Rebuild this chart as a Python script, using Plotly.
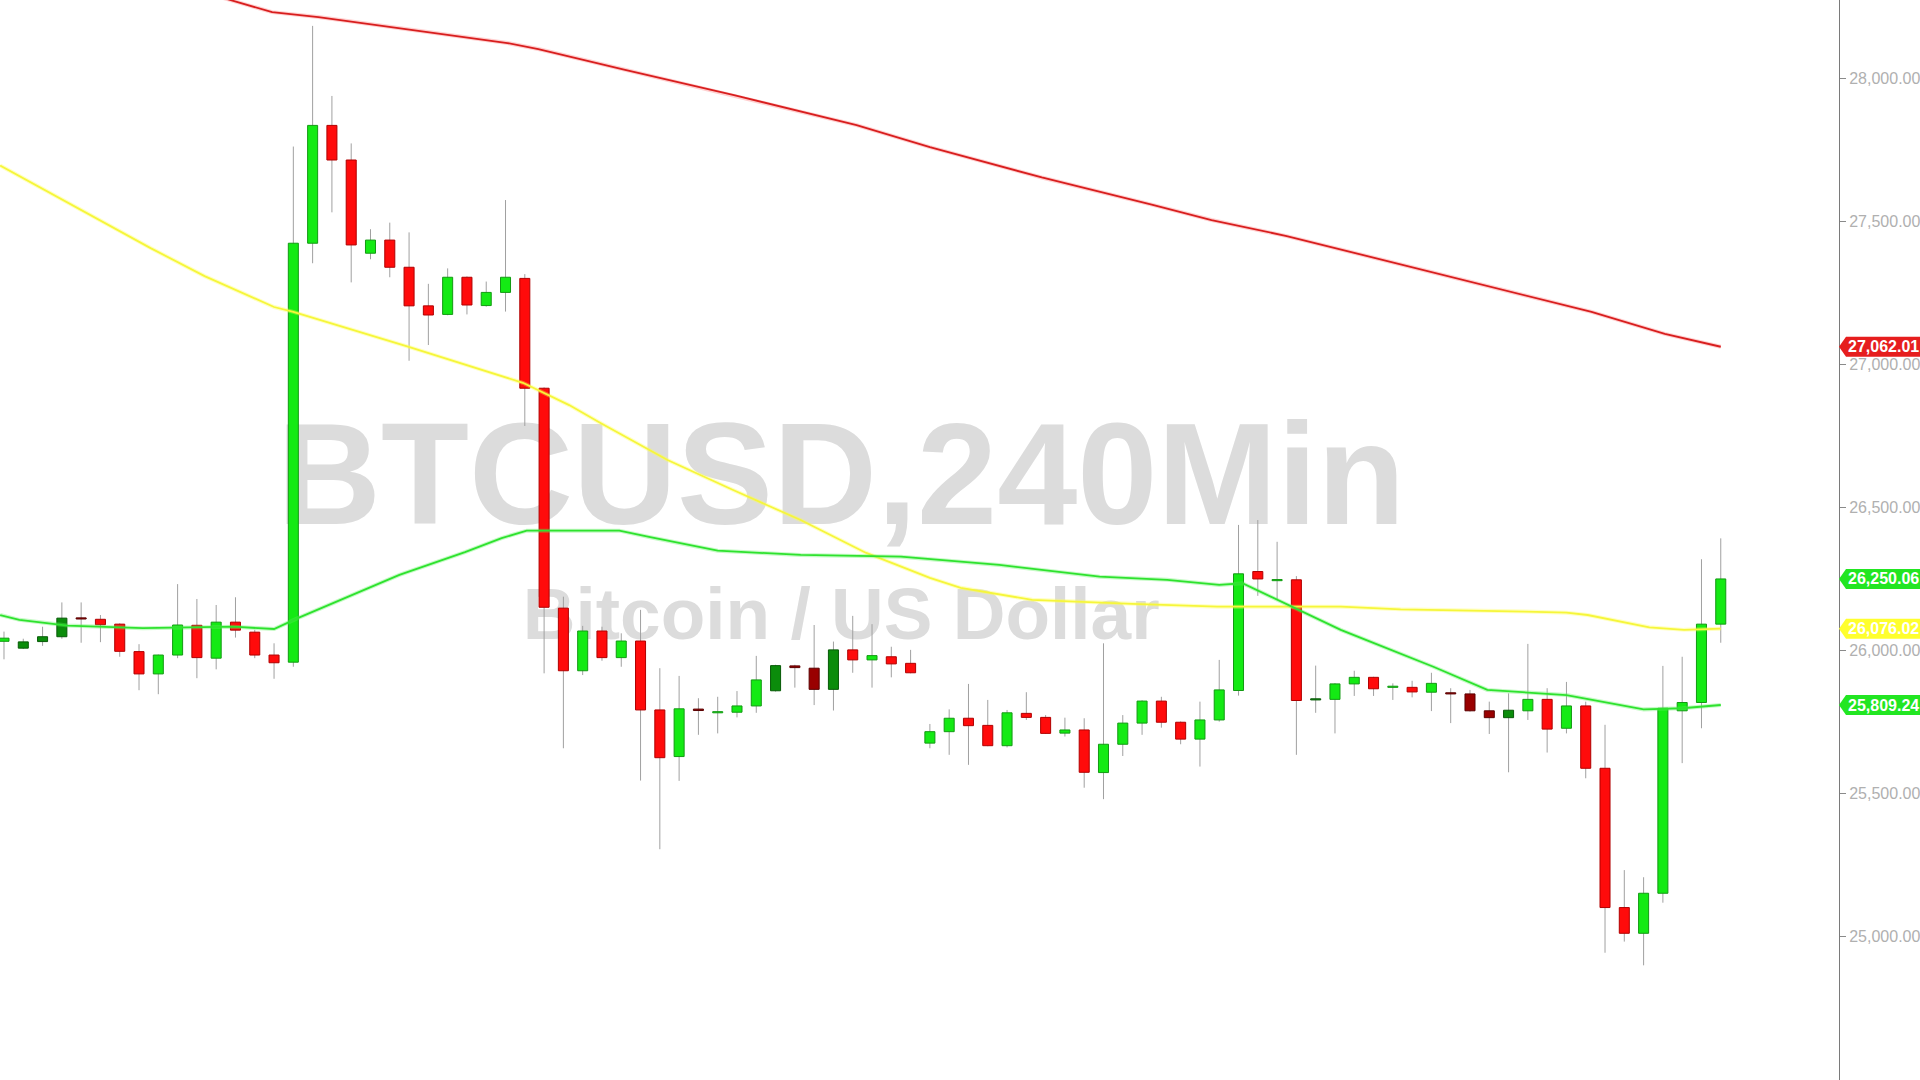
import plotly.graph_objects as go

# ---------------- data ----------------
opens = [26032, 26008, 26031, 26048, 26114, 26109, 26092, 25996, 25918, 25984,
         26088, 25973, 26099, 26064, 25984, 25959, 27424, 27836, 27715, 27389,
         27435, 27340, 27205, 27175, 27305, 27206, 27252, 27301, 26917, 26148,
         25929, 26068, 25975, 26033, 25792, 25629, 25795, 25782, 25784, 25806,
         25859, 25946, 25938, 25864, 26002, 25967, 25978, 25955, 25676, 25716,
         25763, 25738, 25667, 25780, 25766, 25711, 25722, 25573, 25672, 25746,
         25823, 25749, 25690, 25757, 25860, 26276, 26244, 26247, 25827, 25829,
         25883, 25906, 25871, 25871, 25854, 25852, 25848, 25789, 25765, 25789,
         25829, 25728, 25806, 25588, 25101, 25011, 25151, 25789, 25818, 26092]
highs = [26066, 26041, 26083, 26168, 26168, 26124, 26095, 26022, 25986, 26232,
         26180, 26159, 26186, 26072, 26025, 27762, 28184, 27939, 27773, 27473,
         27496, 27462, 27282, 27336, 27308, 27290, 27575, 27316, 26920, 26188,
         26086, 26083, 26060, 26142, 25938, 25911, 25833, 25838, 25858, 25981,
         25950, 25950, 26089, 26031, 26121, 26092, 26013, 26002, 25743, 25794,
         25883, 25827, 25792, 25854, 25774, 25765, 25763, 26025, 25774, 25826,
         25838, 25752, 25821, 25967, 26439, 26456, 26380, 26260, 25947, 25886,
         25929, 25908, 25885, 25894, 25922, 25868, 25862, 25821, 25850, 26023,
         25868, 25890, 25821, 25740, 25232, 25207, 25946, 25978, 26319, 26392]
lows = [25969, 26005, 26016, 26041, 26027, 26029, 25978, 25861, 25847, 25973,
        25903, 25934, 26045, 25973, 25901, 25943, 27354, 27532, 27287, 27368,
        27305, 27013, 27068, 27172, 27175, 27202, 27185, 26785, 25920, 25658,
        25914, 25964, 25943, 25545, 25305, 25544, 25705, 25710, 25766, 25782,
        25856, 25870, 25809, 25790, 25922, 25870, 25906, 25920, 25658, 25635,
        25600, 25665, 25661, 25757, 25708, 25699, 25520, 25480, 25631, 25705,
        25730, 25672, 25594, 25751, 25842, 26191, 26177, 25635, 25782, 25710,
        25841, 25841, 25827, 25836, 25788, 25746, 25786, 25708, 25574, 25757,
        25643, 25710, 25553, 24943, 24982, 24899, 25118, 25606, 25728, 26027]
closes = [26043, 26030, 26048, 26113, 26110, 26090, 25997, 25918, 25984, 26089,
          25975, 26099, 26071, 25984, 25957, 27424, 27836, 27715, 27418, 27435,
          27340, 27205, 27173, 27305, 27208, 27252, 27305, 26917, 26151, 25929,
          26068, 25975, 26033, 25792, 25625, 25796, 25790, 25786, 25806, 25897,
          25947, 25940, 25864, 26002, 25967, 25982, 25953, 25922, 25716, 25763,
          25737, 25667, 25782, 25766, 25710, 25722, 25574, 25672, 25746, 25823,
          25749, 25690, 25757, 25862, 26268, 26250, 26248, 25825, 25831, 25883,
          25906, 25866, 25875, 25855, 25885, 25848, 25789, 25765, 25791, 25829,
          25725, 25806, 25588, 25101, 25011, 25151, 25798, 25818, 26092, 26250.06]
# candle style: G bright up, DG dark up, R bright down, DR dark down
styles = ["G", "DG", "DG", "DG", "DR", "R", "R", "R", "G", "G",
          "R", "G", "R", "R", "R", "G", "G", "R", "R", "G",
          "R", "R", "R", "G", "R", "G", "G", "R", "R", "R",
          "G", "R", "G", "R", "R", "G", "DR", "G", "G", "G",
          "DG", "DR", "DR", "DG", "R", "G", "R", "R", "G", "G",
          "R", "R", "G", "R", "R", "G", "R", "G", "G", "G",
          "R", "R", "G", "G", "G", "R", "G", "R", "DG", "G",
          "G", "R", "G", "R", "G", "DR", "DR", "DR", "DG", "G",
          "R", "G", "R", "R", "R", "G", "G", "G", "G", "G"]

# moving averages, sampled along the lines (candle index, price)
ma200_x = [11.2, 13.9, 16.3, 20.1, 26.1, 27.7, 32.2, 37.9, 44.2, 48.0,
           53.8, 59.5, 62.6, 66.5, 69.6, 75.9, 82.3, 86.1, 89]
ma200_y = [28285, 28232, 28215, 28180, 28124, 28103, 28030, 27941, 27837, 27760,
           27654, 27559, 27505, 27449, 27397, 27290, 27184, 27107, 27062.01]
ma100_x = [-0.2, 4.0, 7.6, 10.4, 14.0, 15.0, 20.9, 26.9, 29.3, 30.9, 34.4,
           37.8, 41.3, 44.7, 46.5, 48.0, 49.6, 53.3, 58.5, 62.9, 69.3,
           72.4, 78.9, 81.0, 82.1, 85.3, 87.1, 89]
ma100_y = [27696, 27540, 27407, 27309, 27201, 27184, 27063, 26936, 26858, 26796, 26666,
           26561, 26456, 26341, 26293, 26254, 26219, 26177, 26163, 26153, 26153,
           26144, 26136, 26132, 26124, 26081, 26072, 26076.02]
ma50_x = [-0.2, 0.8, 3.3, 7.2, 11.9, 14.0, 15.2, 20.5, 23.9, 25.8, 27.1,
          31.9, 33.5, 37.0, 41.3, 46.5, 51.6, 56.8, 60.3, 63.0, 64.2,
          66.8, 69.3, 70.6, 74.1, 76.9, 81.0, 85.0, 87.0, 89]
ma50_y = [26124, 26107, 26087, 26078, 26083, 26075, 26112, 26264, 26344, 26393, 26419,
          26419, 26396, 26349, 26334, 26328, 26299, 26258, 26247, 26229, 26235,
          26153, 26072, 26037, 25943, 25862, 25844, 25794, 25798, 25809.24]

tick_vals = [25000, 25500, 26000, 26500, 27000, 27500, 28000]
badges = [(27062.01, "#e61e1e"), (26250.06, "#22e622"),
          (26076.02, "#ffff2e"), (25809.24, "#22e622")]

# ---------------- layout constants ----------------
Y_MIN, Y_MAX = 24498, 28274.5
X_MIN, X_MAX = -0.207, 95.13
FONT = "Liberation Sans, Arial, sans-serif"

style_colors = {
    "G": ("#14ea14", "#139a13"),
    "DG": ("#0b8c0b", "#075a07"),
    "R": ("#ff0b0b", "#b00000"),
    "DR": ("#990000", "#5a0000"),
}

fig = go.Figure()

# ---- base subplot (x, y): watermark and wicks ----
fig.add_trace(go.Scatter(
    x=[43.4], y=[26568], mode="text", text=["BTCUSD,240Min"],
    textposition="middle center", hoverinfo="skip", showlegend=False,
    textfont=dict(family=FONT, size=144, color="#dcdcdc", weight="bold")))
fig.add_trace(go.Scatter(
    x=[43.4], y=[26104], mode="text", text=["Bitcoin / US Dollar"],
    textposition="middle center", hoverinfo="skip", showlegend=False,
    textfont=dict(family=FONT, size=73, color="#dcdcdc", weight="bold")))

wx, wy = [], []
for i, (h, l) in enumerate(zip(highs, lows)):
    wx += [i, i, None]
    wy += [l, h, None]
fig.add_trace(go.Scatter(x=wx, y=wy, mode="lines", hoverinfo="skip",
                         line=dict(color="#a0a0a0", width=1), showlegend=False))

# ---- overlay subplot (x2, y2): candle bodies and moving averages ----
for key, (fill, edge) in style_colors.items():
    idx = [i for i, s in enumerate(styles) if s == key]
    fig.add_trace(go.Bar(
        x=idx,
        base=[min(opens[i], closes[i]) for i in idx],
        y=[abs(closes[i] - opens[i]) for i in idx],
        width=0.52, marker=dict(color=fill, line=dict(color=edge, width=1)),
        hoverinfo="skip", showlegend=False, xaxis="x2", yaxis="y2"))

for xs, ys, col, halo in [
        (ma200_x, ma200_y, "#d81e1e", "rgba(255,120,120,0.35)"),
        (ma100_x, ma100_y, "#f6f63a", "rgba(255,255,80,0.35)"),
        (ma50_x, ma50_y, "#2ee22e", "rgba(90,240,90,0.35)")]:
    fig.add_trace(go.Scatter(x=xs, y=ys, mode="lines", hoverinfo="skip",
                             line=dict(color=halo, width=4), showlegend=False,
                             xaxis="x2", yaxis="y2"))
    fig.add_trace(go.Scatter(x=xs, y=ys, mode="lines", hoverinfo="skip",
                             line=dict(color=col, width=1.8), showlegend=False,
                             xaxis="x2", yaxis="y2"))

# price badges on the axis
shapes, annos = [], []
for val, col in badges:
    fy = (val - Y_MIN) / (Y_MAX - Y_MIN)
    shapes.append(dict(
        type="path", xref="paper", yref="paper", xsizemode="pixel", ysizemode="pixel",
        xanchor=1, yanchor=fy, path="M0,0 L7,10 L82,10 L82,-10 L7,-10 Z",
        fillcolor=col, line=dict(width=0), layer="above"))
    annos.append(dict(
        x=1, xref="paper", y=fy, yref="paper", xanchor="left", yanchor="middle",
        xshift=7, text=f"{val:,.2f}", showarrow=False,
        font=dict(family=FONT, size=16, color="white", weight="bold")))

fig.update_layout(
    width=1920, height=1080,
    margin=dict(l=0, r=81, t=0, b=0),
    paper_bgcolor="white", plot_bgcolor="white",
    barmode="overlay", showlegend=False,
    shapes=shapes, annotations=annos,
    xaxis=dict(visible=False, range=[X_MIN, X_MAX], fixedrange=True),
    xaxis2=dict(visible=False, range=[X_MIN, X_MAX], overlaying="x", fixedrange=True),
    yaxis=dict(side="right", range=[Y_MIN, Y_MAX], tickvals=tick_vals,
               tickformat=",.2f", showgrid=False, zeroline=False,
               showline=True, linecolor="#7a7a7a", linewidth=1,
               ticks="outside", ticklen=6, tickcolor="#8a8a8a",
               tickfont=dict(family=FONT, size=16, color="#b0b0b0")),
    yaxis2=dict(visible=False, range=[Y_MIN, Y_MAX], overlaying="y", side="right",
                showgrid=False, zeroline=False),
)

fig.write_html("out.html", config={"displayModeBar": False},
               post_script="document.body.style.margin='0';")
